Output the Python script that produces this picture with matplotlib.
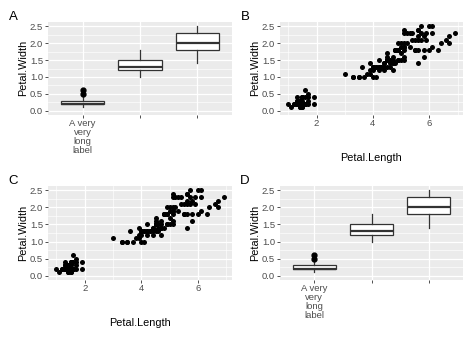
import matplotlib
matplotlib.use("Agg")
import matplotlib.pyplot as plt
import numpy as np

plt.rcParams['font.family'] = ['Liberation Sans', 'DejaVu Sans']

# Iris data: petal length / petal width per flower
petal_length = [
    1.4, 1.4, 1.3, 1.5, 1.4, 1.7, 1.4, 1.5, 1.4, 1.5, 1.5, 1.6, 1.4, 1.1, 1.2, 1.5, 1.3, 1.4, 1.7, 1.5,
    1.7, 1.5, 1.0, 1.7, 1.9, 1.6, 1.6, 1.5, 1.4, 1.6, 1.6, 1.5, 1.5, 1.4, 1.5, 1.2, 1.3, 1.4, 1.3, 1.5,
    1.3, 1.3, 1.3, 1.6, 1.9, 1.4, 1.6, 1.4, 1.5, 1.4,
    4.7, 4.5, 4.9, 4.0, 4.6, 4.5, 4.7, 3.3, 4.6, 3.9, 3.5, 4.2, 4.0, 4.7, 3.6, 4.4, 4.5, 4.1, 4.5, 3.9,
    4.8, 4.0, 4.9, 4.7, 4.3, 4.4, 4.8, 5.0, 4.5, 3.5, 3.8, 3.7, 3.9, 5.1, 4.5, 4.5, 4.7, 4.4, 4.1, 4.0,
    4.4, 4.6, 4.0, 3.3, 4.2, 4.2, 4.2, 4.3, 3.0, 4.1,
    6.0, 5.1, 5.9, 5.6, 5.8, 6.6, 4.5, 6.3, 5.8, 6.1, 5.1, 5.3, 5.5, 5.0, 5.1, 5.3, 5.5, 6.7, 6.9, 5.0,
    5.7, 4.9, 6.7, 4.9, 5.7, 6.0, 4.8, 4.9, 5.6, 5.8, 6.1, 6.4, 5.6, 5.1, 5.6, 6.1, 5.6, 5.5, 4.8, 5.4,
    5.6, 5.1, 5.1, 5.9, 5.7, 5.2, 5.0, 5.2, 5.4, 5.1,
]
petal_width = [
    0.2, 0.2, 0.2, 0.2, 0.2, 0.4, 0.3, 0.2, 0.2, 0.1, 0.2, 0.2, 0.1, 0.1, 0.2, 0.4, 0.4, 0.3, 0.3, 0.3,
    0.2, 0.4, 0.2, 0.5, 0.2, 0.2, 0.4, 0.2, 0.2, 0.2, 0.2, 0.4, 0.1, 0.2, 0.2, 0.2, 0.2, 0.1, 0.2, 0.2,
    0.3, 0.3, 0.2, 0.6, 0.4, 0.3, 0.2, 0.2, 0.2, 0.2,
    1.4, 1.5, 1.5, 1.3, 1.5, 1.3, 1.6, 1.0, 1.3, 1.4, 1.0, 1.5, 1.0, 1.4, 1.3, 1.4, 1.5, 1.0, 1.5, 1.1,
    1.8, 1.3, 1.5, 1.2, 1.3, 1.4, 1.4, 1.7, 1.5, 1.0, 1.1, 1.0, 1.2, 1.6, 1.5, 1.6, 1.5, 1.3, 1.3, 1.3,
    1.2, 1.4, 1.2, 1.0, 1.3, 1.2, 1.3, 1.3, 1.1, 1.3,
    2.5, 1.9, 2.1, 1.8, 2.2, 2.1, 1.7, 1.8, 1.8, 2.5, 2.0, 1.9, 2.1, 2.0, 2.4, 2.3, 1.8, 2.2, 2.3, 1.5,
    2.3, 2.0, 2.0, 1.8, 2.1, 1.8, 1.8, 1.8, 2.1, 1.6, 1.9, 2.0, 2.2, 1.5, 1.4, 2.3, 2.4, 1.8, 1.8, 2.1,
    2.4, 2.3, 1.9, 2.3, 2.5, 2.3, 1.9, 2.0, 2.3, 1.8,
]
species = ["setosa"] * 50 + ["versicolor"] * 50 + ["virginica"] * 50
species_levels = ["setosa", "versicolor", "virginica"]
box_tick_labels = ["A very\nvery\nlong\nlabel", "", ""]
y_ticks = [0.0, 0.5, 1.0, 1.5, 2.0, 2.5]
x_ticks_scatter = [2, 4, 6]
panel_labels = ["A", "B", "C", "D"]

W, H = 474, 338
fig = plt.figure(figsize=(W / 100, H / 100), dpi=100)

BG = "#EBEBEB"
TICKC = "#4D4D4D"
TICK_FS = 6.8
TITLE_FS = 7.8


def px_axes(l, t, r, b):
    return fig.add_axes([l / W, 1 - b / H, (r - l) / W, (b - t) / H])


def style(ax, minor_x):
    ax.set_facecolor(BG)
    for s in ax.spines.values():
        s.set_visible(False)
    ax.set_axisbelow(True)
    ax.set_yticks(y_ticks)
    ax.set_yticklabels([f"{v:.1f}" for v in y_ticks])
    ax.set_yticks([0.25, 0.75, 1.25, 1.75, 2.25], minor=True)
    ax.grid(True, which="major", color="white", lw=0.9)
    ax.grid(True, which="minor", axis="y", color="white", lw=0.45)
    if minor_x is not None:
        ax.set_xticks(minor_x, minor=True)
        ax.grid(True, which="minor", axis="x", color="white", lw=0.45)
    ax.tick_params(which="major", length=2, width=0.6, color="#333333",
                   labelsize=TICK_FS, labelcolor=TICKC, pad=1.5)
    ax.tick_params(axis="x", which="major", pad=0.8)
    ax.tick_params(which="minor", length=0)
    ax.set_ylim(-0.125, 2.625)


def boxpanel(ax):
    data = [[w for w, s in zip(petal_width, species) if s == lev] for lev in species_levels]
    ax.boxplot(data, positions=[1, 2, 3], widths=0.75, patch_artist=True,
               boxprops=dict(facecolor="white", edgecolor="#333333", lw=0.9),
               medianprops=dict(color="#333333", lw=1.6),
               whiskerprops=dict(color="#333333", lw=0.9),
               capprops=dict(lw=0), capwidths=0,
               flierprops=dict(marker="o", markerfacecolor="black", markeredgecolor="black",
                               markersize=3.5))
    ax.set_xlim(0.4, 3.6)
    style(ax, None)
    ax.set_xticks([1, 2, 3])
    ax.set_xticklabels(box_tick_labels, linespacing=1.02, multialignment="center")
    ax.set_ylabel("Petal.Width", fontsize=TITLE_FS)


def scatpanel(ax):
    ax.scatter(petal_length, petal_width, s=13, color="black", linewidths=0)
    lo, hi = min(petal_length), max(petal_length)
    pad = (hi - lo) * 0.05
    ax.set_xlim(lo - pad, hi + pad)
    style(ax, [1, 3, 5, 7])
    ax.set_xticks(x_ticks_scatter)
    ax.set_ylabel("Petal.Width", fontsize=TITLE_FS)
    ax.set_xlabel("Petal.Length", fontsize=TITLE_FS)


axA = px_axes(48, 22, 232, 115)
boxpanel(axA)
axB = px_axes(280, 22, 463, 115)
scatpanel(axB)
axC = px_axes(48, 186, 232, 280)
scatpanel(axC)
axD = px_axes(280, 186, 463, 280)
boxpanel(axD)

# axis title positions (figure pixels)
axA.yaxis.set_label_coords(23 / W, 1 - 68 / H, transform=fig.transFigure)
axB.yaxis.set_label_coords(255 / W, 1 - 68 / H, transform=fig.transFigure)
axC.yaxis.set_label_coords(23 / W, 1 - 233 / H, transform=fig.transFigure)
axD.yaxis.set_label_coords(255 / W, 1 - 233 / H, transform=fig.transFigure)
axB.xaxis.set_label_coords(371 / W, 1 - 158 / H, transform=fig.transFigure)
axC.xaxis.set_label_coords(140 / W, 1 - 323 / H, transform=fig.transFigure)
for ax in (axA, axB, axC, axD):
    ax.yaxis.label.set_va("center")
    ax.xaxis.label.set_va("center")

for lab, (x, y) in zip(panel_labels, [(13, 17), (245, 17), (13, 181), (245, 181)]):
    fig.text(x / W, 1 - y / H, lab, fontsize=9.5, ha="center", va="center")

fig.savefig("out.png", dpi=100, facecolor="white")
